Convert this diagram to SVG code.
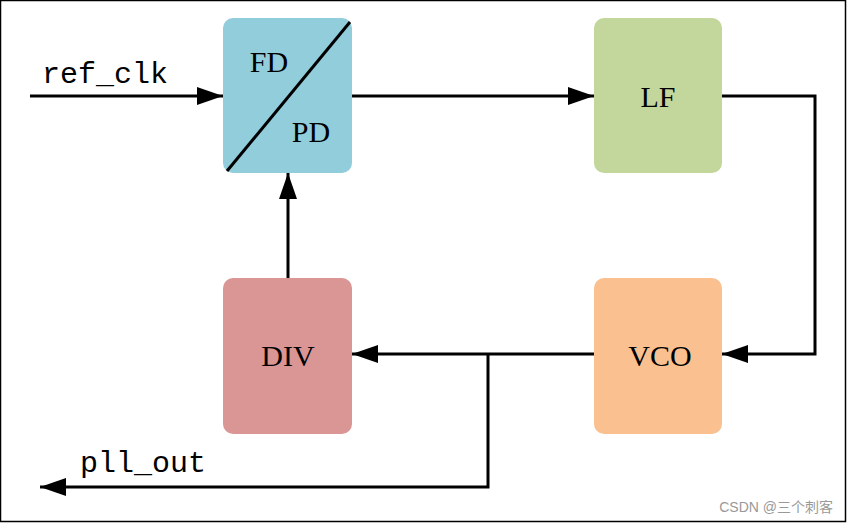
<svg xmlns="http://www.w3.org/2000/svg" width="847" height="524" viewBox="0 0 847 524">
<style>
.lbl{font-family:"Liberation Serif",serif;font-size:30px;fill:#000;text-anchor:middle}
.mono{font-family:"Liberation Mono",monospace;font-size:30px;fill:#000}
.w{stroke:#000;stroke-width:3;fill:none}
</style>
<defs><marker id="a" markerWidth="10" markerHeight="8" refX="9" refY="4" orient="auto" markerUnits="userSpaceOnUse" viewBox="0 0 10 8"><path d="M0,0L10,4L0,8z" fill="#000"/></marker>
<marker id="b" viewBox="0 0 10 8" refX="10" refY="4" markerWidth="26" markerHeight="18" orient="auto" markerUnits="userSpaceOnUse" preserveAspectRatio="none"><path d="M0,0L10,4L0,8z" fill="#000"/></marker></defs>
<rect x="0.5" y="0.5" width="845" height="521" fill="#fff" stroke="#000" stroke-width="1.5"/>
<g id="fdpd"><rect x="223" y="18" width="129" height="155" rx="10" fill="#92CDDC"/><line x1="227" y1="171" x2="350" y2="22" stroke="#000" stroke-width="3"/><text class="lbl" x="269" y="72">FD</text><text class="lbl" x="311" y="142">PD</text></g>
<g id="lf"><rect x="594" y="18" width="128" height="155" rx="10" fill="#C3D69B"/><text class="lbl" x="658" y="107">LF</text></g>
<g id="div"><rect x="223" y="278" width="129" height="156" rx="10" fill="#D99694"/><text class="lbl" x="288" y="366">DIV</text></g>
<g id="vco"><rect x="594" y="278" width="128" height="156" rx="10" fill="#FAC090"/><text class="lbl" x="660" y="366">VCO</text></g>
<g id="connectors">
<path class="w" d="M30,96H223" marker-end="url(#b)"/>
<path class="w" d="M352,96H594" marker-end="url(#b)"/>
<path class="w" d="M722,96H815V354H722" marker-end="url(#b)"/>
<path class="w" d="M594,354H352" marker-end="url(#b)"/>
<path class="w" d="M488,354V487H40" marker-end="url(#b)"/>
<path class="w" d="M288,278V173" marker-end="url(#b)"/>
</g>
<text class="mono" x="42" y="83">ref_clk</text>
<text class="mono" x="80" y="472">pll_out</text>
<text x="833" y="512" font-family="'Liberation Sans','Noto Sans CJK SC',sans-serif" font-size="14" fill="#999" text-anchor="end">CSDN @三个刺客</text>
</svg>
